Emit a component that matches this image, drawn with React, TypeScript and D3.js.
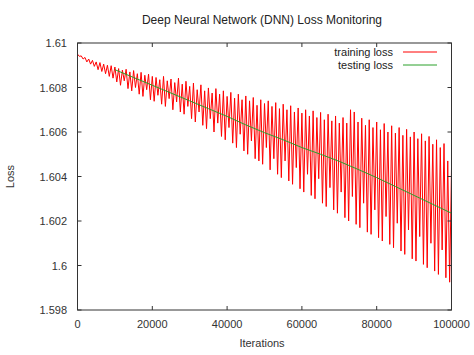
import React from "react";
import * as d3 from "d3";

const TITLE = "Deep Neural Network (DNN) Loss Monitoring";
const X_TICKS = [0, 20000, 40000, 60000, 80000, 100000];
const Y_TICKS = [1.598, 1.6, 1.602, 1.604, 1.606, 1.608, 1.61];
const TRAIN_STEP = 500;
const trainingLoss = [
  1.6095, 1.6094, 1.60942, 1.60928, 1.60935, 1.60915, 1.60928, 1.60905, 1.60922, 1.60895,
  1.60915, 1.6088, 1.60912, 1.60872, 1.60905, 1.60862, 1.609, 1.6085, 1.60898, 1.60842,
  1.60892, 1.60825, 1.60885, 1.6081, 1.60878, 1.6083, 1.60882, 1.60795, 1.6087, 1.60785,
  1.60876, 1.608, 1.60862, 1.6077, 1.60868, 1.6076, 1.60855, 1.6079, 1.6086, 1.60745,
  1.6085, 1.60738, 1.60845, 1.60765, 1.60835, 1.60725, 1.6085, 1.60715, 1.6083, 1.6075,
  1.60838, 1.607, 1.60822, 1.60735, 1.60842, 1.6069, 1.60815, 1.6068, 1.60828, 1.60715,
  1.60805, 1.6066, 1.6082, 1.60645, 1.6079, 1.6069, 1.60812, 1.6063, 1.60785, 1.60615,
  1.60798, 1.6066, 1.60775, 1.606, 1.60795, 1.6064, 1.6077, 1.6058, 1.60785, 1.60565,
  1.6076, 1.6062, 1.60778, 1.6055, 1.60752, 1.6053, 1.6077, 1.6059, 1.60745, 1.60515,
  1.60762, 1.605, 1.6074, 1.6056, 1.60755, 1.6048, 1.6072, 1.6047, 1.60745, 1.60455,
  1.60728, 1.6053, 1.6074, 1.6043, 1.60715, 1.6048, 1.60732, 1.6041, 1.60705, 1.60395,
  1.60725, 1.6047, 1.607, 1.6038, 1.60718, 1.60365, 1.6069, 1.6044, 1.60708, 1.60345,
  1.60685, 1.6033, 1.607, 1.6041, 1.60672, 1.60315, 1.60695, 1.603, 1.60665, 1.6039,
  1.60688, 1.6028, 1.60655, 1.60265, 1.6068, 1.6035, 1.6065, 1.6025, 1.60672, 1.60235,
  1.6064, 1.6033, 1.60665, 1.60215, 1.6064, 1.602, 1.607, 1.6031, 1.6069, 1.60185,
  1.60645, 1.6017, 1.60662, 1.6028, 1.6063, 1.6015, 1.60655, 1.6014, 1.6062, 1.6025,
  1.60645, 1.60125, 1.6061, 1.6011, 1.60638, 1.6022, 1.606, 1.60095, 1.60628, 1.6008,
  1.60595, 1.6019, 1.6062, 1.60065, 1.60585, 1.6005, 1.60612, 1.6016, 1.60578, 1.6003,
  1.606, 1.6002, 1.6057, 1.6013, 1.60592, 1.60005, 1.6056, 1.5999, 1.6058, 1.601,
  1.60545, 1.59975, 1.60565, 1.5996, 1.6053, 1.6007, 1.60548, 1.59945, 1.6047, 1.59925,
  1.6044,
];
const testIterations = [10000, 15000, 20000, 25000, 30000, 35000, 40000, 45000, 50000, 55000, 60000, 65000, 70000, 75000, 80000, 85000, 90000, 95000, 100000];
const testingLoss = [1.6088, 1.60845, 1.6081, 1.60775, 1.6074, 1.60705, 1.6067, 1.60632, 1.60597, 1.60565, 1.6053, 1.605, 1.60468, 1.60432, 1.60395, 1.60355, 1.60315, 1.60275, 1.60235];

const W = 474, H = 355;
const L = 77.5, R = 451.5, T = 43, B = 310;
const FONT = "'Liberation Sans', Arial, sans-serif";
const AX = "#333";

export default function App() {
  const x = d3.scaleLinear().domain([0, 100000]).range([L, R]);
  const y = d3.scaleLinear().domain([1.598, 1.61]).range([B, T]);
  const line = d3.line<[number, number]>().x(d => x(d[0])).y(d => y(d[1]));
  const trainPts: [number, number][] = trainingLoss.map((v, i) => [i * TRAIN_STEP, v]);
  const testPts: [number, number][] = testingLoss.map((v, i) => [testIterations[i], v]);
  const tk = 4;
  return (
    <svg width={W} height={H} style={{ position: "fixed", left: 0, top: 0, background: "#fff" }} fontFamily={FONT}>
      <defs>
        <clipPath id="pa"><rect x={L} y={T} width={R - L} height={B - T} /></clipPath>
      </defs>
      <rect x={0} y={0} width={W} height={H} fill="#fff" />
      <text x={262} y={24} fontSize={12} textAnchor="middle" fill="#222">{TITLE}</text>
      <g clipPath="url(#pa)">
        <path d={line(trainPts) || ""} fill="none" stroke="#ff0000" strokeWidth={1} strokeLinejoin="round" />
        <path d={line(testPts) || ""} fill="none" stroke="#2aa02a" strokeWidth={1} />
      </g>
      <rect x={L} y={T} width={R - L} height={B - T} fill="none" stroke={AX} strokeWidth={1} />
      {X_TICKS.map(t => (
        <g key={"x" + t}>
          <line x1={x(t)} x2={x(t)} y1={B} y2={B - tk} stroke={AX} />
          <line x1={x(t)} x2={x(t)} y1={T} y2={T + tk} stroke={AX} />
          <text x={x(t)} y={328} fontSize={11} textAnchor="middle" fill="#333">{t}</text>
        </g>
      ))}
      {Y_TICKS.map(t => (
        <g key={"y" + t}>
          <line x1={L} x2={L + tk} y1={y(t)} y2={y(t)} stroke={AX} />
          <line x1={R} x2={R - tk} y1={y(t)} y2={y(t)} stroke={AX} />
          <text x={67} y={y(t) + 4} fontSize={11} textAnchor="end" fill="#333">{d3.format("")(t)}</text>
        </g>
      ))}
      <text x={262} y={347} fontSize={11} textAnchor="middle" fill="#333">Iterations</text>
      <text transform={`translate(14,${(T + B) / 2}) rotate(-90)`} fontSize={11} textAnchor="middle" fill="#333">Loss</text>
      <text x={393} y={56} fontSize={11} textAnchor="end" fill="#222">training loss</text>
      <line x1={403} x2={437} y1={52} y2={52} stroke="#ff0000" />
      <text x={393} y={69} fontSize={11} textAnchor="end" fill="#222">testing loss</text>
      <line x1={403} x2={437} y1={65} y2={65} stroke="#2aa02a" />
    </svg>
  );
}
